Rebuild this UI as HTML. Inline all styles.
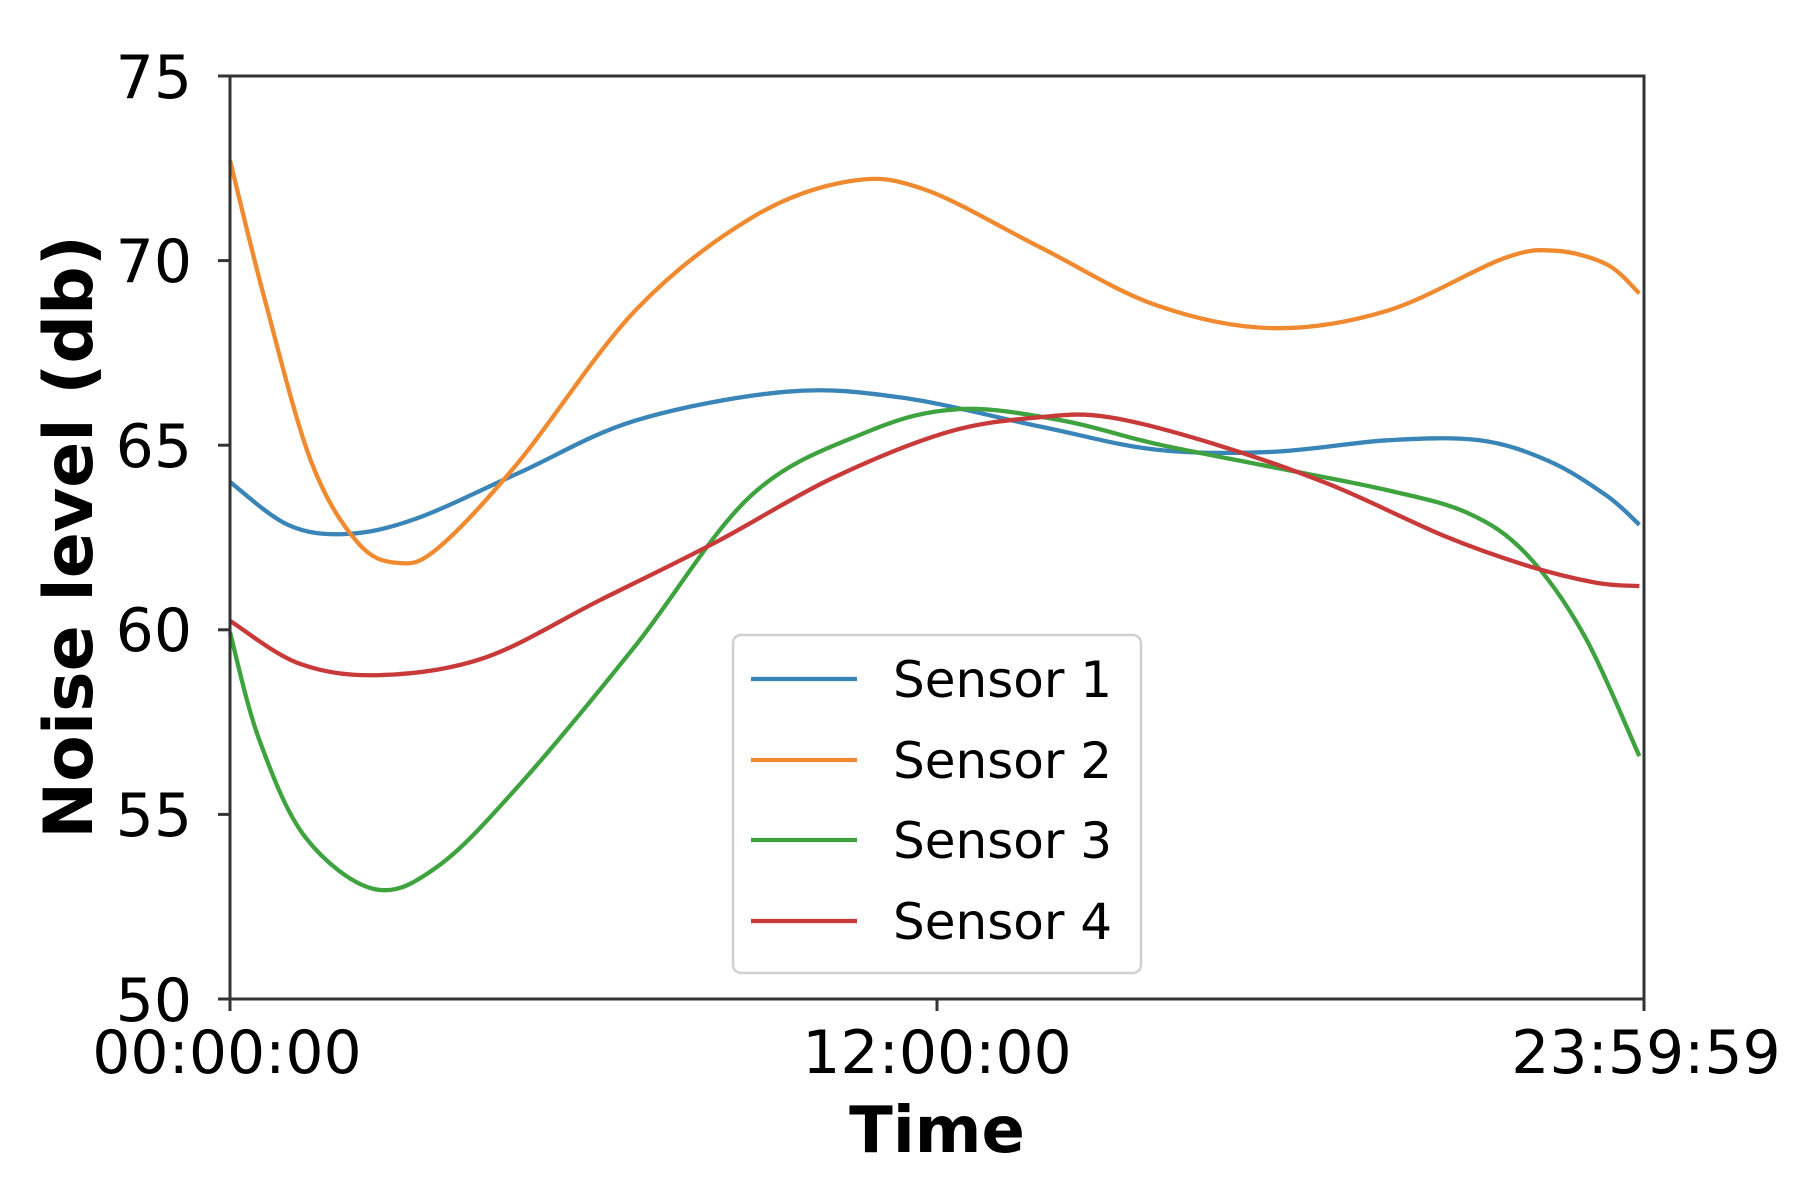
<!DOCTYPE html>
<html><head><meta charset="utf-8"><style>
html,body{margin:0;padding:0;background:#fff;}
svg{display:block;}
text{font-family:"DejaVu Sans","Liberation Sans",sans-serif;fill:#000;}
</style></head><body>
<svg id="s" width="1812" height="1204" viewBox="0 0 1812 1204" xmlns="http://www.w3.org/2000/svg">
<rect width="1812" height="1204" fill="#fff"/>
<g id="curves" fill="none" stroke-width="4.3" stroke-linejoin="round" stroke-linecap="butt"></g>
<rect x="230" y="76" width="1414" height="923" fill="none" stroke="#333" stroke-width="3"/>
<g stroke="#333" stroke-width="3">
<line x1="218" y1="76" x2="230" y2="76"/><line x1="218" y1="260.6" x2="230" y2="260.6"/>
<line x1="218" y1="445.2" x2="230" y2="445.2"/><line x1="218" y1="629.8" x2="230" y2="629.8"/>
<line x1="218" y1="814.4" x2="230" y2="814.4"/><line x1="218" y1="999" x2="230" y2="999"/>
<line x1="230" y1="999" x2="230" y2="1011"/><line x1="937" y1="999" x2="937" y2="1011"/><line x1="1644" y1="999" x2="1644" y2="1011"/>
</g>
<g font-size="60" text-anchor="end">
<text x="192" y="98">75</text><text x="192" y="282">70</text><text x="192" y="467">65</text>
<text x="192" y="651">60</text><text x="192" y="836">55</text><text x="192" y="1021">50</text>
</g>
<g font-size="60" text-anchor="middle">
<text x="227" y="1073">00:00:00</text><text x="937" y="1073">12:00:00</text><text x="1646" y="1073">23:59:59</text>
</g>
<text x="937" y="1152" font-size="64" font-weight="bold" text-anchor="middle">Time</text>
<text transform="translate(92,537) rotate(-90)" font-size="68" font-weight="bold" text-anchor="middle">Noise level (db)</text>
<rect x="733" y="635" width="408" height="338" rx="8" fill="#fff" fill-opacity="0.85" stroke="#d0d0d0" stroke-width="2.5"/>
<g stroke-width="4.3">
<line x1="751" y1="679" x2="857" y2="679" stroke="#3a85b8"/>
<line x1="751" y1="760" x2="857" y2="760" stroke="#f08a30"/>
<line x1="751" y1="840" x2="857" y2="840" stroke="#3ea23e"/>
<line x1="751" y1="921" x2="857" y2="921" stroke="#c83a3a"/>
</g>
<g font-size="50">
<text x="893" y="697">Sensor 1</text><text x="893" y="778">Sensor 2</text>
<text x="893" y="858">Sensor 3</text><text x="893" y="939">Sensor 4</text>
</g>
</svg>
<script>
var data={
"#3a85b8":[[200,418],[250,455],[300,463],[360,450],[450,410],[550,365],[680,340],[780,345],[900,370],[1000,390],[1100,392],[1200,382],[1280,382],[1340,400],[1390,430],[1418,455]],
"#f08a30":[[200,140],[230,260],[270,400],[310,470],[345,488],[380,475],[450,400],[550,270],[650,190],[735,158],[800,165],[900,215],[1000,265],[1100,285],[1200,270],[1300,225],[1345,218],[1390,230],[1418,255]],
"#3ea23e":[[200,548],[225,640],[265,725],[325,770],[380,750],[450,680],[550,560],[650,430],[750,375],[830,355],[920,365],[1000,385],[1100,405],[1200,425],[1270,445],[1320,480],[1370,550],[1418,655]],
"#c83a3a":[[200,538],[260,575],[330,585],[420,570],[520,520],[620,470],[720,415],[820,375],[900,362],[960,362],[1050,385],[1150,420],[1250,465],[1320,490],[1380,505],[1418,508]]
};
function T(p){return [230+(p[0]-200)*1414/1222, 76+(p[1]-67)*923/798];}
var g=document.getElementById('curves'),ns="http://www.w3.org/2000/svg";
for(var c in data){
 var P=data[c].map(T),d="M"+P[0][0].toFixed(1)+","+P[0][1].toFixed(1);
 for(var i=0;i<P.length-1;i++){
  var p0=P[Math.max(i-1,0)],p1=P[i],p2=P[i+1],p3=P[Math.min(i+2,P.length-1)];
  var c1=[p1[0]+(p2[0]-p0[0])/6,p1[1]+(p2[1]-p0[1])/6],c2=[p2[0]-(p3[0]-p1[0])/6,p2[1]-(p3[1]-p1[1])/6];
  d+=" C"+c1[0].toFixed(1)+","+c1[1].toFixed(1)+" "+c2[0].toFixed(1)+","+c2[1].toFixed(1)+" "+p2[0].toFixed(1)+","+p2[1].toFixed(1);
 }
 var e=document.createElementNS(ns,"path");e.setAttribute("d",d);e.setAttribute("stroke",c);g.appendChild(e);
}
</script>
</body></html>
